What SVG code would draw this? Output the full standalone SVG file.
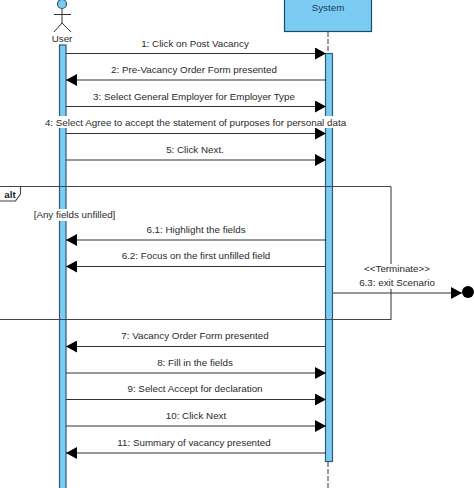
<svg xmlns="http://www.w3.org/2000/svg" width="474" height="488" viewBox="0 0 474 488">
<defs>
<style>
text{font-family:"Liberation Sans",Arial,sans-serif;font-size:9.800px;fill:#2a2a2a;text-anchor:middle}
.act{fill:#7ccbf2;stroke:#2f5a78;stroke-width:1.2}
.msg{stroke:#333;stroke-width:1.1;fill:none}
.frame{stroke:#444;stroke-width:1.1;fill:none}
.bg{fill:#fff}
</style>
<marker id="arrow" markerUnits="userSpaceOnUse" markerWidth="12" markerHeight="12" refX="11" refY="6" orient="auto-start-reverse"><path d="M0 0L11 6L0 12Z" fill="#000"/></marker>
</defs>
<rect width="474" height="488" fill="#fff"/>
<g id="node-user">
<circle cx="62" cy="4" r="4.5" fill="#7ccbf2" stroke="#2f5a78" stroke-width="1.2"/>
<path d="M62 9V23M54 14.500H71M62 23L54 32M62 23L71 32" fill="none" stroke="#333" stroke-width="1"/>
<text x="62" y="42">User</text>
<rect class="act" x="59.500" y="45" width="6.500" height="445"/>
</g>
<g id="node-system">
<rect x="284.500" y="-2" width="87" height="33.500" fill="#7ccbf2" stroke="#1f4a68" stroke-width="1.2"/>
<text x="328" y="11" style="fill:#17405c">System</text>
<path d="M328 32V53M328 462V488" stroke="#666" stroke-width="1.300" stroke-dasharray="5 2" fill="none"/>
<rect class="act" x="325.500" y="53.500" width="7" height="408"/>
</g>
<g id="frame-alt">
<path class="frame" d="M-1 186.500H391M391 186.500V320M-1 319.500H391"/>
<path d="M-1 186.500H20.500V194L15.500 201H-1" fill="#fff" stroke="#444" stroke-width="1.100"/>
<text x="10" y="198" style="font-weight:bold;fill:#222">alt</text>
</g>
<g id="connectors">
<path class="msg" marker-end="url(#arrow)" d="M66 53.500H326"/>
<path class="msg" marker-end="url(#arrow)" d="M326 80H66"/>
<path class="msg" marker-end="url(#arrow)" d="M66 106.500H326"/>
<path class="msg" marker-end="url(#arrow)" d="M66 133.500H326"/>
<path class="msg" marker-end="url(#arrow)" d="M66 160H326"/>
<path class="msg" marker-end="url(#arrow)" d="M326 240H66"/>
<path class="msg" marker-end="url(#arrow)" d="M326 266.500H66"/>
<path class="msg" marker-end="url(#arrow)" d="M333 293H462"/>
<path class="msg" marker-end="url(#arrow)" d="M326 346.500H66"/>
<path class="msg" marker-end="url(#arrow)" d="M66 373H326"/>
<path class="msg" marker-end="url(#arrow)" d="M66 399.500H326"/>
<path class="msg" marker-end="url(#arrow)" d="M66 426H326"/>
<path class="msg" marker-end="url(#arrow)" d="M326 453H66"/>
<circle cx="468" cy="292" r="6" fill="#000"/>
</g>
<g id="labels">
<rect class="bg" x="44" y="116" width="303" height="12"/>
<rect class="bg" x="33" y="209" width="84" height="12"/>
<rect class="bg" x="360" y="264" width="76" height="25"/>
<text x="195" y="47">1: Click on Post Vacancy</text>
<text x="194" y="73">2: Pre-Vacancy Order Form presented</text>
<text x="194" y="100">3: Select General Employer for Employer Type</text>
<text x="195.500" y="126">4: Select Agree to accept the statement of purposes for personal data</text>
<text x="195" y="153">5: Click Next.</text>
<text x="74.500" y="218">[Any fields unfilled]</text>
<text x="196" y="233">6.1: Highlight the fields</text>
<text x="196" y="259">6.2: Focus on the first unfilled field</text>
<text x="397" y="272">&lt;&lt;Terminate&gt;&gt;</text>
<text x="397" y="286">6.3: exit Scenario</text>
<text x="195" y="339">7: Vacancy Order Form presented</text>
<text x="195" y="366">8: Fill in the fields</text>
<text x="195" y="392">9: Select Accept for declaration</text>
<text x="196" y="419">10: Click Next</text>
<text x="194" y="446">11: Summary of vacancy presented</text>
</g>
</svg>
